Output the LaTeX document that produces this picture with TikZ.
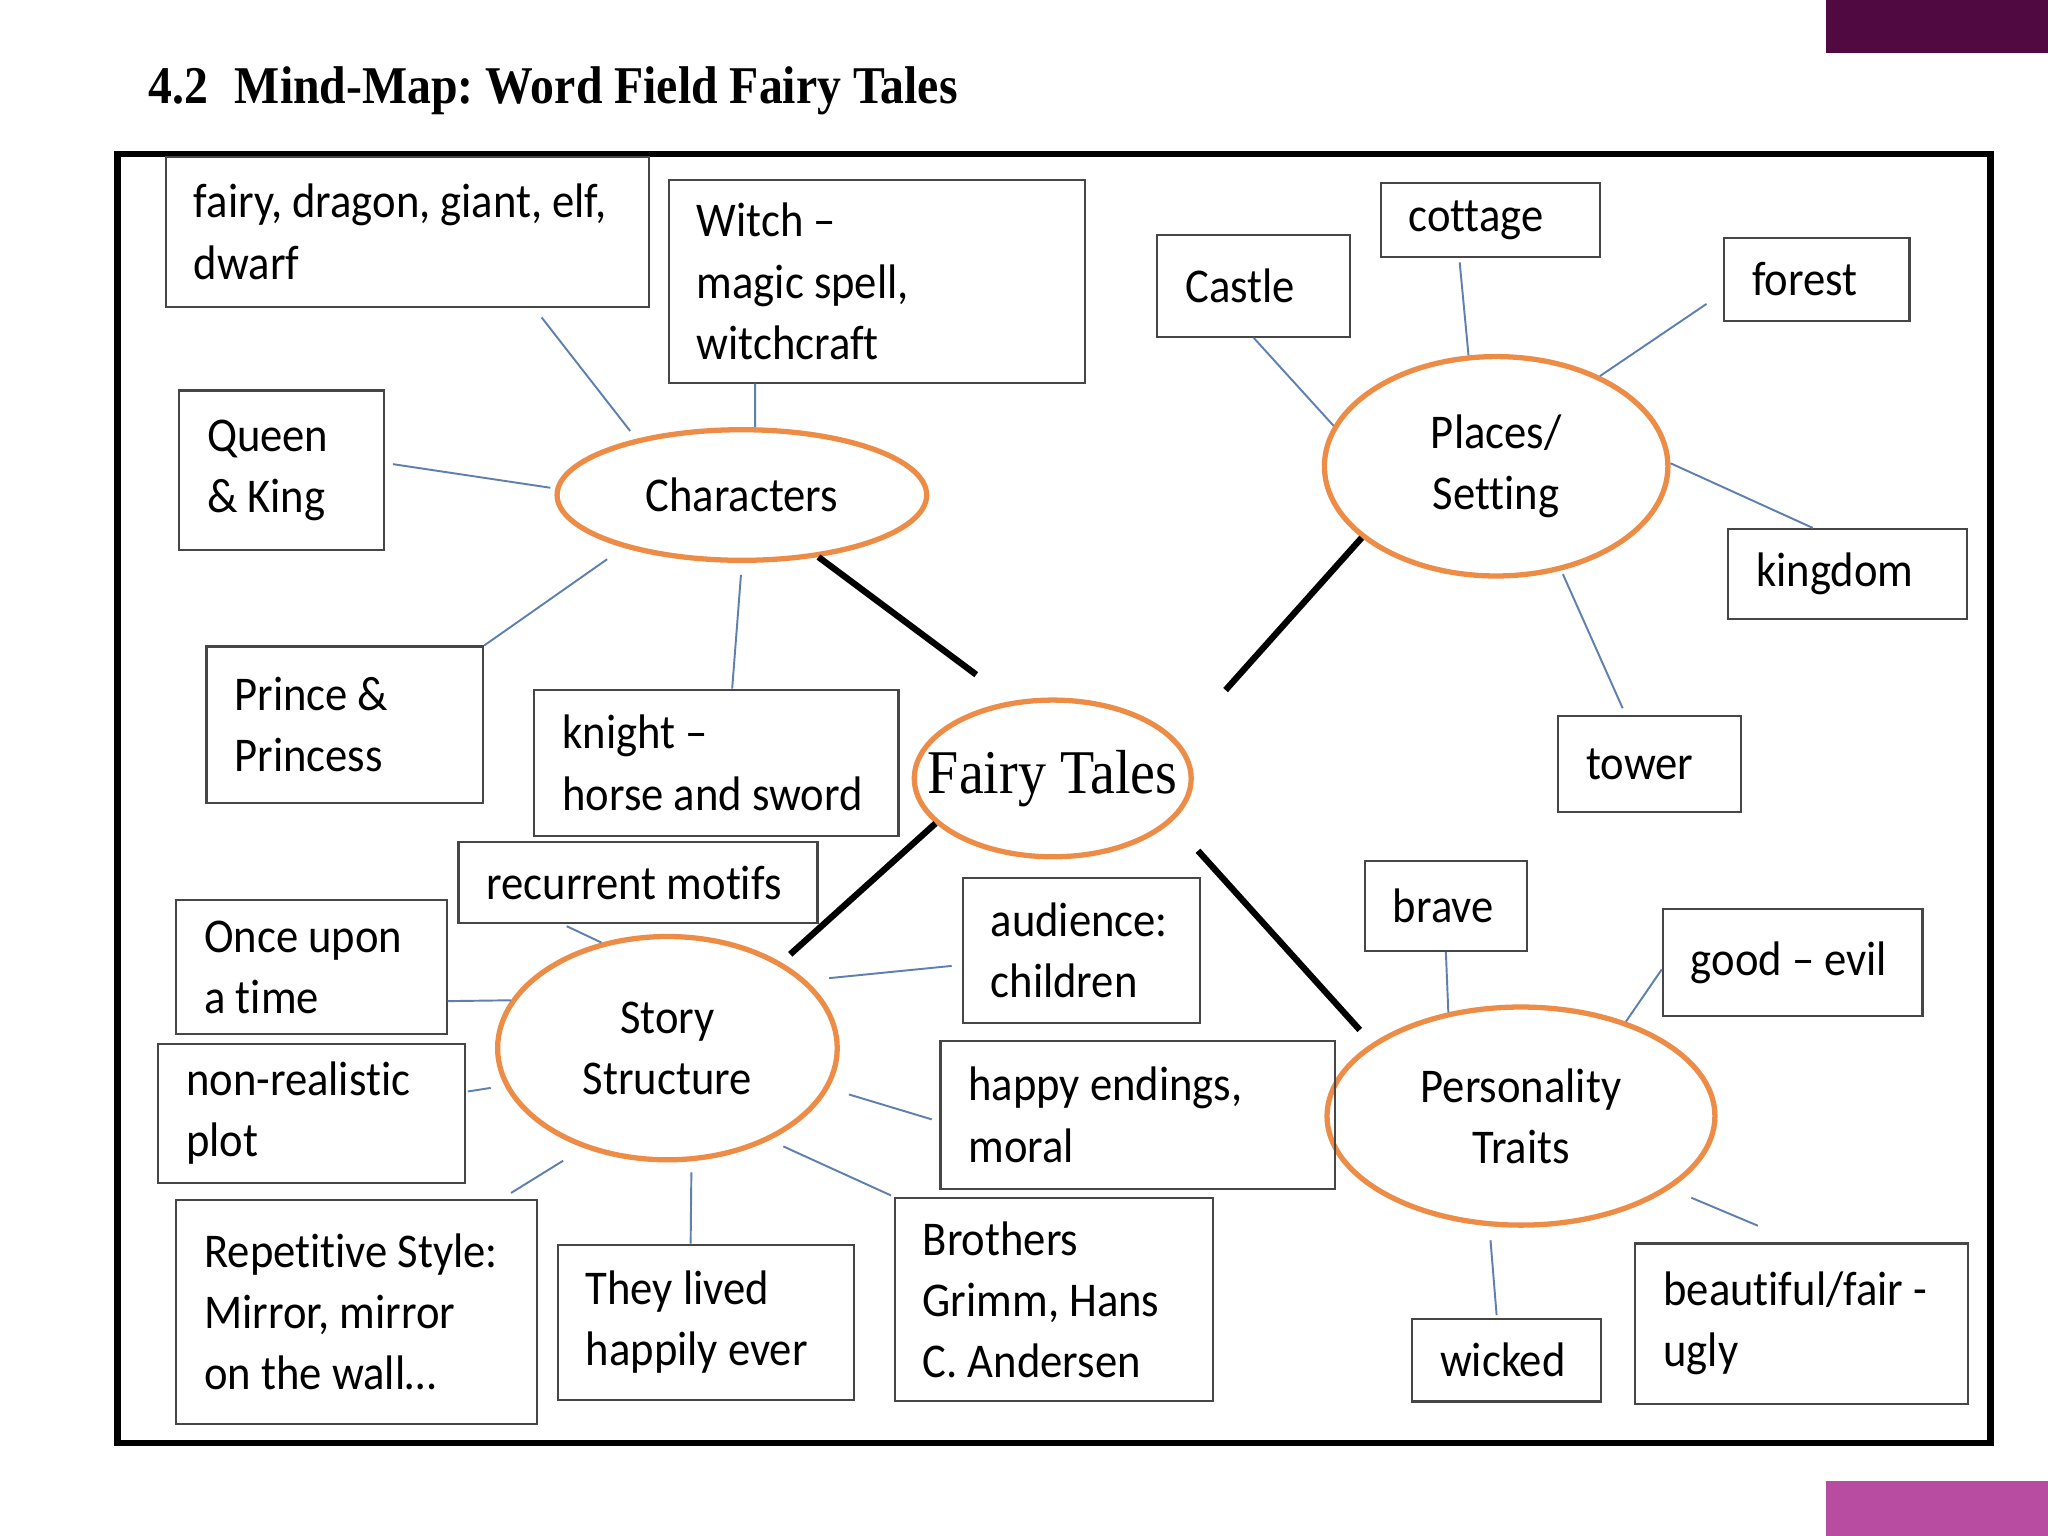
\documentclass[tikz,border=0pt]{standalone}
\usepackage{fontspec}
\setmainfont{Carlito}[FakeStretch=0.92, Ligatures={TeX,NoCommon}]
\newfontfamily\timesfont{Liberation Serif}[FakeStretch=0.9]
\usepackage{tikz}
\usetikzlibrary{shapes.geometric}
\definecolor{fairyorange}{RGB}{236,140,70}
\definecolor{spokeblue}{RGB}{95,128,175}
\definecolor{boxgray}{RGB}{70,70,70}
\definecolor{slidedark}{RGB}{80,10,65}
\definecolor{slidepink}{RGB}{184,76,160}
\tikzset{
	leaf/.style 2 args= {
		rectangle,
		draw=boxgray,
		line width=0.6pt,
		inner xsep=0.28cm,
		text width=#1,
		minimum height=#2,
		align=flush left,
		font=\fontsize{13.8}{17.4}\selectfont
	},
	topic/.style 2 args= {
		ellipse,
		draw=fairyorange,
		line width=1.5pt,
		inner sep=0pt,
		minimum width=#1,
		minimum height=#2,
		align=flush center,
		font=\fontsize{13.8}{17.4}\selectfont
	},
	spoke/.style= {
		draw=spokeblue,
		line width=0.55pt
	},
	trunk/.style= {
		black,
		line width=1.8pt
	}
}

\begin{document}
\frenchspacing
\begin{tikzpicture}[x=0.013061cm, y=-0.013061cm]
		\useasboundingbox (0,0) rectangle (1568,1176);
		\fill[slidedark] (1398,0) rectangle (1568,40.5);
		\fill[slidepink] (1398,1134) rectangle (1568,1176);
		
		\node (title)[anchor=base west, inner sep=0pt, font=\timesfont\bfseries\fontsize{15.1}{18}\selectfont] at (113,79) {4.2\hspace{0.27cm}Mind-Map: Word Field Fairy Tales};
		\draw[line width=1.8pt] (90,118) rectangle (1524,1105);
		
		\node (chars)[topic={3.696cm}{1.306cm}] at (568,379) {Characters};
		\node (places)[topic={3.435cm}{2.194cm}] at (1145.5,357) {Places/\\Setting};
		\node (tales)[topic={2.769cm}{1.567cm}, font=\timesfont\fontsize{17.7}{20}\selectfont] at (806,596) {\makebox[0pt]{Fairy Tales}};
		\node (story)[topic={3.396cm}{2.233cm}] at (511,802.5) {Story\\Structure};
		\node (traits)[topic={3.879cm}{2.181cm}] at (1164.5,854.5) {Personality\\Traits};
		
		\node (fairy)[leaf={4.271cm}{1.502cm}] at (312,177.5) {fairy, dragon, giant, elf,\\dwarf};
		\node (witch)[leaf={3.605cm}{2.024cm}] at (671.5,215.5) {Witch –\\magic spell,\\witchcraft};
		\node (queen)[leaf={1.489cm}{1.593cm}] at (215.5,360) {Queen\\\& King};
		\node (prince)[leaf={2.207cm}{1.567cm}] at (264,555) {Prince \&\\Princess};
		\node (knight)[leaf={3.082cm}{1.463cm}] at (548.5,584) {knight –\\horse and sword};
		
		\node (castle)[leaf={1.371cm}{1.019cm}] at (960,219) {Castle};
		\node (cottage)[leaf={1.633cm}{0.744cm}] at (1141,168.5) {cottage};
		\node (forest)[leaf={1.293cm}{0.836cm}] at (1391,214) {forest};
		\node (kingdom)[leaf={1.829cm}{0.901cm}] at (1414.5,439.5) {kingdom};
		\node (tower)[leaf={1.267cm}{0.967cm}] at (1263,585) {tower};
		
		\node (motifs)[leaf={3.030cm}{0.810cm}] at (488.5,676) {recurrent motifs};
		\node (once)[leaf={2.142cm}{1.345cm}] at (238.5,740.5) {Once upon\\a time};
		\node (unreal)[leaf={2.508cm}{1.398cm}] at (238.5,852.5) {non-realistic\\plot};
		\node (mirror)[leaf={3.043cm}{2.233cm}] at (273,1004.5) {Repetitive Style:\\Mirror, mirror\\on the wall…};
		\node (lived)[leaf={2.403cm}{1.554cm}] at (540.5,1012.5) {They lived\\happily ever};
		\node (authors)[leaf={2.625cm}{2.037cm}] at (807,995) {Brothers\\Grimm, Hans\\C. Andersen};
		\node (audience)[leaf={1.815cm}{1.450cm}] at (828,727.5) {audience:\\children};
		\node (endings)[leaf={3.383cm}{1.476cm}] at (871,853.5) {happy endings,\\moral};
		
		\node (brave)[leaf={1.058cm}{0.901cm}] at (1107,693.5) {brave};
		\node (goodevil)[leaf={2.037cm}{1.071cm}] at (1372.5,737) {good – evil};
		\node (wicked)[leaf={1.332cm}{0.823cm}] at (1153.5,1041.5) {wicked};
		\node (beauty)[leaf={2.769cm}{1.606cm}] at (1379.5,1013.5) {beautiful/fair -\\ugly};
		
		\foreach \src/\dst/\gapa/\gapb in {fairy.-31/chars.152/0.12/0.1, witch.-140/chars.79/0/0, queen.4/chars.178/0.08/0.05, prince.north east/chars.-156/0/0.2, knight.78/chars.south/0/0.12, castle.south/places.166/0/0, cottage.-129/places.104/0.04/0, forest.-172/places.41/0.2/0, kingdom.127/places.1/0/0, tower.116/places.-58/0.07/0.04, motifs.-151/story.122/0.04/0, once.-14/story.163/0/0, unreal.8/story.-167/0.02/0.14, mirror.38/story.-130/0.12/0.24, lived.101/story.-78/0/0.11, authors.north west/story.-42/0.03/0.15, audience.-173/story.26/0.1/0.23, endings.-178/story.-14/0.08/0.21, brave.south/traits.125/0/0, goodevil.-177/traits.42/0/0, wicked.103/traits.-106/0.03/0.14, beauty.93/traits.-26/0.43/0.23}
		{
			\draw[spoke, shorten <=\gapa cm, shorten >=\gapb cm] (\src) -- (\dst);
		}
		
		\draw[trunk, shorten >=0.44cm] (chars.-39) -- (tales.118);
		\draw[trunk, shorten >=0.70cm] (places.-152) -- (tales.16);
		\draw[trunk, shorten <=0.12cm] (story.37) -- (tales.-159);
		\draw[trunk, shorten <=0.39cm, shorten >=0.18cm] (tales.-20) -- (traits.154);
	\end{tikzpicture}
\end{document}
